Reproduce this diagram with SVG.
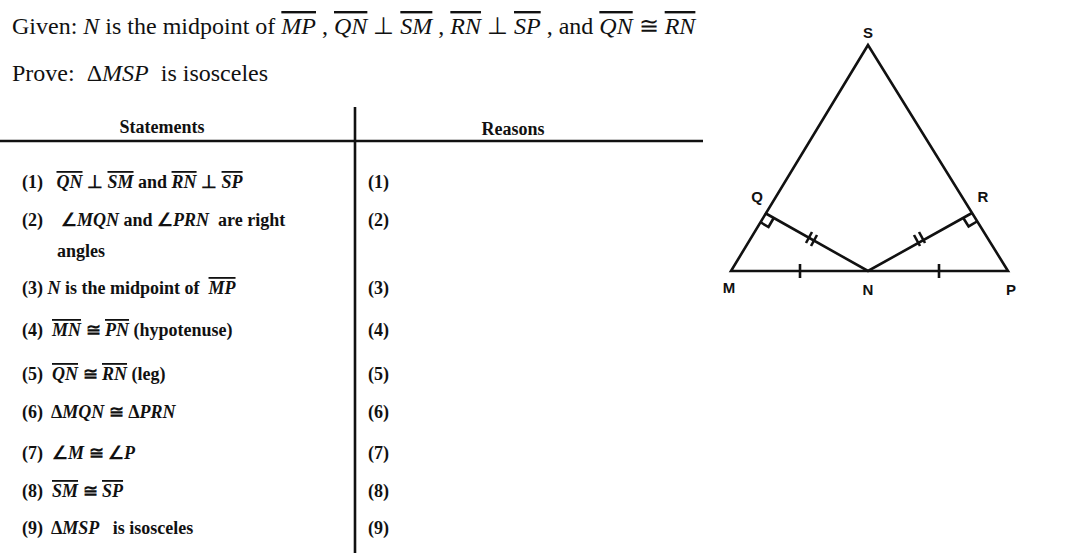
<svg xmlns="http://www.w3.org/2000/svg" width="1071" height="553" viewBox="0 0 1071 553">
<style>
text{white-space:pre}
.t{font-family:"Liberation Serif",serif;font-size:24px;fill:#111}
.b{font-family:"Liberation Serif",serif;font-size:18px;font-weight:bold;fill:#111}
.i{font-style:italic}
.o{text-decoration:overline}
.l{font-family:"Liberation Sans",sans-serif;font-size:15px;font-weight:bold;fill:#111;text-anchor:middle}
.s{stroke:#111;stroke-width:2.6;fill:none}
</style>
<rect width="1071" height="553" fill="#fff"/>
<text class="t" x="12" y="34">Given: <tspan class="i">N</tspan> is the midpoint of <tspan class="i o">MP</tspan> , <tspan class="i o">QN</tspan> ⊥ <tspan class="i o">SM</tspan> , <tspan class="i o">RN</tspan> ⊥ <tspan class="i o">SP</tspan> , and <tspan class="i o">QN</tspan> ≅ <tspan class="i o">RN</tspan></text>
<text class="t" x="12" y="81" font-size="23">Prove:  Δ<tspan class="i">MSP</tspan>  is isosceles</text>
<g id="table">
<line class="s" x1="0" y1="141" x2="703" y2="141" stroke-width="1.5"/>
<line class="s" x1="355" y1="107" x2="355" y2="553" stroke-width="1.2"/>
<text class="b" x="162" y="133" text-anchor="middle">Statements</text>
<text class="b" x="513" y="135" text-anchor="middle">Reasons</text>
<text class="b" x="22" y="188">(1)   <tspan class="i o">QN</tspan> ⊥ <tspan class="i o">SM</tspan> and <tspan class="i o">RN</tspan> ⊥ <tspan class="i o">SP</tspan></text>
<text class="b" x="22" y="226">(2)    ∠<tspan class="i">MQN</tspan> and ∠<tspan class="i">PRN</tspan>  are right</text>
<text class="b" x="57" y="257">angles</text>
<text class="b" x="22" y="294">(3) <tspan class="i">N</tspan> is the midpoint of  <tspan class="i o">MP</tspan></text>
<text class="b" x="22" y="336">(4)  <tspan class="i o">MN</tspan> ≅ <tspan class="i o">PN</tspan> (hypotenuse)</text>
<text class="b" x="22" y="380">(5)  <tspan class="i o">QN</tspan> ≅ <tspan class="i o">RN</tspan> (leg)</text>
<text class="b" x="22" y="418">(6)  Δ<tspan class="i">MQN</tspan> ≅ Δ<tspan class="i">PRN</tspan></text>
<text class="b" x="22" y="459">(7)  ∠<tspan class="i">M</tspan> ≅ ∠<tspan class="i">P</tspan></text>
<text class="b" x="22" y="497">(8)  <tspan class="i o">SM</tspan> ≅ <tspan class="i o">SP</tspan></text>
<text class="b" x="22" y="534">(9)  Δ<tspan class="i">MSP</tspan>   is isosceles</text>
<text class="b" x="368" y="188">(1)</text>
<text class="b" x="368" y="226">(2)</text>
<text class="b" x="368" y="294">(3)</text>
<text class="b" x="368" y="336">(4)</text>
<text class="b" x="368" y="380">(5)</text>
<text class="b" x="368" y="418">(6)</text>
<text class="b" x="368" y="459">(7)</text>
<text class="b" x="368" y="497">(8)</text>
<text class="b" x="368" y="534">(9)</text>
</g>
<g id="figure">
<polygon class="s" points="868,45 731,271 1008,271"/>
<polyline class="s" points="765,213 868,271 972,213"/>
<polyline class="s" stroke-width="2" points="760,222 768.5,227 773.7,218"/>
<polyline class="s" stroke-width="2" points="977,221.5 968.6,226.4 963.3,218"/>
<line class="s" x1="800" y1="264" x2="800" y2="278"/>
<line class="s" x1="939" y1="264" x2="939" y2="278"/>
<line class="s" x1="806" y1="243" x2="812" y2="232"/>
<line class="s" x1="811" y1="246" x2="817" y2="235"/>
<line class="s" x1="925" y1="243" x2="919" y2="232"/>
<line class="s" x1="920" y1="246" x2="914" y2="235"/>
<text class="l" x="868" y="38">S</text>
<text class="l" x="757" y="202">Q</text>
<text class="l" x="983" y="202">R</text>
<text class="l" x="729" y="293">M</text>
<text class="l" x="868" y="295">N</text>
<text class="l" x="1011" y="295">P</text>
</g>
</svg>
